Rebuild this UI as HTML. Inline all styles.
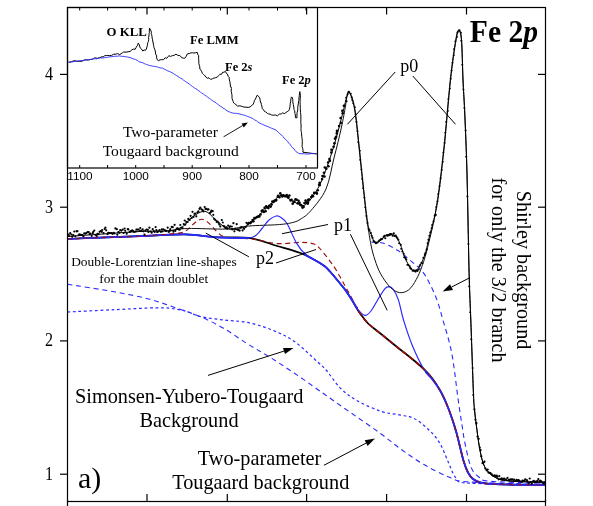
<!DOCTYPE html>
<html><head><meta charset="utf-8"><style>
html,body{margin:0;padding:0;background:#fff;}
body{width:593px;height:506px;overflow:hidden;}
svg{display:block;will-change:transform;}
</style></head><body>
<svg width="593" height="506" viewBox="0 0 593 506">
<rect width="593" height="506" fill="#fff"/>
<path d="M67.5,312.0 C75.3,311.6 99.3,310.4 114.2,309.7 C129.1,309.0 146.5,307.9 156.7,307.8 C166.9,307.7 170.1,308.2 175.6,309.0 C181.1,309.8 185.7,311.2 189.8,312.5 C193.9,313.8 194.4,315.2 200.0,316.5 C205.6,317.8 215.7,319.0 223.6,320.0 C231.5,321.0 239.3,320.8 247.2,322.4 C255.1,324.0 262.9,326.3 270.8,329.5 C278.7,332.7 286.5,336.0 294.4,341.5 C302.3,347.0 312.6,357.5 318.0,362.3 C323.4,367.1 322.7,366.1 326.5,370.5 C330.3,374.9 335.6,383.5 340.7,388.5 C345.8,393.5 350.5,396.9 357.2,400.7 C363.9,404.5 373.7,408.9 380.8,411.3 C387.9,413.7 394.2,413.7 399.7,414.9 C405.2,416.1 409.2,416.0 413.9,418.4 C418.6,420.8 423.7,424.9 428.0,429.0 C432.3,433.1 436.3,437.4 439.8,443.2 C443.3,449.0 446.2,457.8 448.9,463.6 C451.6,469.4 452.9,474.9 456.2,478.2 C459.5,481.4 453.7,482.1 468.5,483.1 C483.3,484.1 532.2,484.2 545.0,484.4" fill="none" stroke="#2a2aff" stroke-width="1.2" stroke-dasharray="2.8,2.7"/>
<path d="M67.5,284.2 C75.3,285.5 100.5,289.3 114.2,291.8 C127.9,294.3 139.4,296.5 149.6,299.2 C159.8,301.9 167.2,304.9 175.6,307.8 C184.0,310.7 192.0,313.1 200.0,316.5 C208.0,319.9 215.7,323.8 223.6,328.3 C231.5,332.8 239.3,338.8 247.2,343.7 C255.1,348.6 262.9,352.9 270.8,357.8 C278.7,362.7 286.5,367.9 294.4,373.2 C302.3,378.5 311.5,385.1 318.0,389.7 C324.5,394.3 327.1,396.1 333.6,400.7 C340.1,405.3 349.3,411.7 357.2,417.2 C365.1,422.7 373.3,428.2 380.8,433.7 C388.3,439.2 394.7,444.8 402.0,450.0 C409.3,455.2 416.6,460.3 424.4,464.8 C432.2,469.3 441.5,474.1 448.9,477.0 C456.2,479.9 452.5,480.7 468.5,481.9 C484.5,483.1 532.2,484.0 545.0,484.4" fill="none" stroke="#2a2aff" stroke-width="1.1" stroke-dasharray="5,3.8"/>
<path d="M371.3,242.3 C373.2,242.4 378.1,241.7 382.5,243.0 C386.9,244.3 392.5,247.1 397.5,250.3 C402.5,253.5 408.5,258.9 412.6,262.3 C416.7,265.8 419.2,267.5 422.0,271.0 C424.8,274.5 427.0,278.3 429.5,283.2 C432.0,288.1 434.8,294.2 437.0,300.1 C439.2,306.1 440.2,310.1 442.6,318.9 C445.1,327.7 449.1,339.5 451.7,353.0 C454.3,366.5 456.5,388.0 458.2,400.0 C459.9,412.0 460.9,417.8 462.0,425.0 C463.1,432.2 463.5,436.4 465.0,443.4 C466.5,450.4 468.7,461.5 471.0,467.1 C473.3,472.7 475.6,474.6 478.8,477.0 C482.0,479.4 479.0,480.3 490.0,481.3 C501.0,482.3 535.8,482.8 545.0,483.1" fill="none" stroke="#2a2aff" stroke-width="1.1" stroke-dasharray="5,3.8"/>
<defs><clipPath id="cb"><rect x="0" y="0" width="248" height="506"/><rect x="304" y="0" width="54" height="506"/><rect x="425" y="0" width="168" height="506"/></clipPath><clipPath id="cr"><rect x="357" y="0" width="67" height="506"/></clipPath><clipPath id="cl"><rect x="0" y="0" width="184" height="506"/><rect x="424" y="0" width="169" height="506"/></clipPath></defs>
<path d="M67.5,239.0 C72.9,238.8 87.9,238.1 100.0,237.6 C112.1,237.1 125.8,236.7 140.0,236.2 C154.2,235.7 172.1,234.2 185.0,234.4 C197.9,234.6 206.5,236.7 217.2,237.3 C227.8,237.9 238.9,236.5 248.9,237.9 C258.9,239.3 268.6,243.5 277.2,246.0 C285.8,248.5 294.2,250.7 300.5,253.0 C306.8,255.3 310.7,257.8 314.7,260.0 C318.7,262.2 321.8,264.1 324.4,266.0 C326.9,267.9 327.9,269.2 330.0,271.5 C332.1,273.8 334.6,276.8 337.2,280.0 C339.8,283.2 343.4,287.4 345.9,290.9 C348.4,294.3 350.6,297.8 352.4,300.7 C354.2,303.6 355.2,305.9 356.7,308.3 C358.1,310.7 359.3,312.4 361.1,314.8 C362.9,317.2 365.4,320.7 367.6,323.0 C369.8,325.3 371.8,326.6 374.1,328.5 C376.5,330.4 378.4,331.9 381.7,334.5 C384.9,337.1 388.6,340.2 393.6,344.3 C398.6,348.4 406.9,354.7 411.9,358.8 C416.9,362.9 420.3,365.7 423.7,369.0 C427.1,372.3 429.5,374.7 432.4,378.5 C435.3,382.3 438.2,386.8 441.0,392.0 C443.8,397.2 446.5,403.4 449.0,410.0 C451.5,416.6 453.8,423.3 456.2,431.8 C458.6,440.3 461.6,454.3 463.6,461.1 C465.6,467.9 466.4,469.5 468.0,472.5 C469.6,475.5 471.0,477.4 473.0,479.0 C475.0,480.6 476.3,481.4 480.0,482.3 C483.7,483.2 484.2,483.7 495.0,484.2 C505.8,484.7 536.7,485.0 545.0,485.1" fill="none" stroke="#000" stroke-width="1.75"/>
<path d="M67.5,239.0 C72.9,238.8 87.9,238.1 100.0,237.6 C112.1,237.1 128.3,236.8 140.0,236.2 C151.7,235.6 162.5,234.9 170.0,234.1 C177.5,233.3 179.4,233.9 184.8,231.4 C190.2,228.9 196.3,218.6 202.4,219.3 C208.5,220.0 215.9,232.3 221.3,235.5 C226.7,238.7 230.3,237.7 234.8,238.2 C239.3,238.7 244.4,238.3 248.3,238.6 C252.2,238.9 253.5,239.2 258.3,240.0 C263.1,240.8 270.1,243.2 277.2,243.6 C284.3,244.0 294.9,242.4 300.8,242.4 C306.7,242.4 309.5,242.6 312.6,243.6 C315.8,244.6 316.1,244.5 319.7,248.3 C323.2,252.1 330.3,261.4 333.9,266.6 C337.5,271.8 339.5,276.0 341.5,279.5 C343.5,283.0 344.4,285.0 345.9,287.6 C347.3,290.2 348.4,291.9 350.2,295.2 C352.0,298.5 354.9,304.2 356.7,307.5 C358.5,310.8 359.3,312.2 361.1,314.8 C362.9,317.4 365.4,320.7 367.6,323.0 C369.8,325.3 371.8,326.6 374.1,328.5 C376.5,330.4 378.4,331.9 381.7,334.5 C384.9,337.1 388.6,340.2 393.6,344.3 C398.6,348.4 406.9,354.7 411.9,358.8 C416.9,362.9 420.3,365.7 423.7,369.0 C427.1,372.3 429.5,374.7 432.4,378.5 C435.3,382.3 438.2,386.8 441.0,392.0 C443.8,397.2 446.5,403.4 449.0,410.0 C451.5,416.6 453.8,423.3 456.2,431.8 C458.6,440.3 461.6,454.3 463.6,461.1 C465.6,467.9 466.4,469.5 468.0,472.5 C469.6,475.5 471.0,477.4 473.0,479.0 C475.0,480.6 476.3,481.4 480.0,482.3 C483.7,483.2 484.2,483.7 495.0,484.2 C505.8,484.7 536.7,485.0 545.0,485.1" fill="none" stroke="#9a0c0c" stroke-width="1.15" stroke-dasharray="5,3.5"/>
<path d="M67.5,239.0 C72.9,238.8 87.9,238.1 100.0,237.6 C112.1,237.1 125.8,236.7 140.0,236.2 C154.2,235.7 172.1,234.2 185.0,234.4 C197.9,234.6 206.9,236.7 217.2,237.3 C227.5,237.9 240.5,238.2 246.8,238.0 C253.1,237.8 252.5,237.6 255.0,236.0 C257.5,234.4 259.7,231.2 262.0,228.5 C264.3,225.8 266.6,222.1 269.0,220.0 C271.4,217.9 274.2,216.4 276.2,216.0 C278.2,215.6 279.2,216.2 281.0,217.5 C282.8,218.8 284.4,219.3 287.0,223.5 C289.6,227.7 293.3,237.7 296.4,242.9 C299.5,248.1 302.4,251.7 305.5,254.5 C308.6,257.4 311.6,258.1 314.7,260.0 C317.8,261.9 321.8,264.1 324.4,266.0 C326.9,267.9 327.9,269.2 330.0,271.5 C332.1,273.8 334.6,276.8 337.2,280.0 C339.8,283.2 343.4,287.4 345.9,290.9 C348.4,294.3 350.6,297.9 352.4,300.7 C354.2,303.5 355.3,305.8 356.7,307.8 C358.1,309.8 359.1,311.2 360.5,312.5 C361.9,313.8 363.6,315.6 365.4,315.3 C367.1,315.1 368.8,313.8 371.0,311.0 C373.2,308.2 376.2,302.2 378.5,298.5 C380.8,294.8 383.3,290.7 385.0,288.7 C386.7,286.7 387.4,286.6 388.7,286.6 C390.0,286.7 391.4,286.8 393.0,289.0 C394.6,291.2 396.8,294.9 398.5,300.1 C400.2,305.3 401.2,312.6 403.5,320.0 C405.8,327.4 408.6,336.5 412.0,344.7 C415.4,352.9 420.3,363.2 423.7,369.0 C427.1,374.8 429.5,375.7 432.4,379.5 C435.3,383.3 438.2,386.9 441.0,392.0 C443.8,397.1 446.5,403.4 449.0,410.0 C451.5,416.6 453.8,423.3 456.2,431.8 C458.6,440.3 461.6,454.3 463.6,461.1 C465.6,467.9 466.4,469.5 468.0,472.5 C469.6,475.5 471.0,477.4 473.0,479.0 C475.0,480.6 476.3,481.4 480.0,482.3 C483.7,483.2 484.2,483.7 495.0,484.2 C505.8,484.7 536.7,485.0 545.0,485.1" fill="none" stroke="#2a2aff" stroke-width="1.2"/>
<path d="M67.5,239.0 C72.9,238.8 87.9,238.1 100.0,237.6 C112.1,237.1 125.8,236.7 140.0,236.2 C154.2,235.7 172.1,234.2 185.0,234.4 C197.9,234.6 206.9,236.7 217.2,237.3 C227.5,237.9 240.5,238.2 246.8,238.0 C253.1,237.8 252.5,237.6 255.0,236.0 C257.5,234.4 259.7,231.2 262.0,228.5 C264.3,225.8 266.6,222.1 269.0,220.0 C271.4,217.9 274.2,216.4 276.2,216.0 C278.2,215.6 279.2,216.2 281.0,217.5 C282.8,218.8 284.4,219.3 287.0,223.5 C289.6,227.7 293.3,237.7 296.4,242.9 C299.5,248.1 302.4,251.7 305.5,254.5 C308.6,257.4 311.6,258.1 314.7,260.0 C317.8,261.9 321.8,264.1 324.4,266.0 C326.9,267.9 327.9,269.2 330.0,271.5 C332.1,273.8 334.6,276.8 337.2,280.0 C339.8,283.2 343.4,287.4 345.9,290.9 C348.4,294.3 350.6,297.9 352.4,300.7 C354.2,303.5 355.3,305.8 356.7,307.8 C358.1,309.8 359.1,311.2 360.5,312.5 C361.9,313.8 363.6,315.6 365.4,315.3 C367.1,315.1 368.8,313.8 371.0,311.0 C373.2,308.2 376.2,302.2 378.5,298.5 C380.8,294.8 383.3,290.7 385.0,288.7 C386.7,286.7 387.4,286.6 388.7,286.6 C390.0,286.7 391.4,286.8 393.0,289.0 C394.6,291.2 396.8,294.9 398.5,300.1 C400.2,305.3 401.2,312.6 403.5,320.0 C405.8,327.4 408.6,336.5 412.0,344.7 C415.4,352.9 420.3,363.2 423.7,369.0 C427.1,374.8 429.5,375.7 432.4,379.5 C435.3,383.3 438.2,386.9 441.0,392.0 C443.8,397.1 446.5,403.4 449.0,410.0 C451.5,416.6 453.8,423.3 456.2,431.8 C458.6,440.3 461.6,454.3 463.6,461.1 C465.6,467.9 466.4,469.5 468.0,472.5 C469.6,475.5 471.0,477.4 473.0,479.0 C475.0,480.6 476.3,481.4 480.0,482.3 C483.7,483.2 484.2,483.7 495.0,484.2 C505.8,484.7 536.7,485.0 545.0,485.1" fill="none" stroke="#2a2aff" stroke-width="1.75" clip-path="url(#cb)"/>
<path d="M67.5,239.0 C72.9,238.8 87.9,238.1 100.0,237.6 C112.1,237.1 128.3,236.8 140.0,236.2 C151.7,235.6 162.5,234.9 170.0,234.1 C177.5,233.3 179.4,233.9 184.8,231.4 C190.2,228.9 196.3,218.6 202.4,219.3 C208.5,220.0 215.9,232.3 221.3,235.5 C226.7,238.7 230.3,237.7 234.8,238.2 C239.3,238.7 244.4,238.3 248.3,238.6 C252.2,238.9 253.5,239.2 258.3,240.0 C263.1,240.8 270.1,243.2 277.2,243.6 C284.3,244.0 294.9,242.4 300.8,242.4 C306.7,242.4 309.5,242.6 312.6,243.6 C315.8,244.6 316.1,244.5 319.7,248.3 C323.2,252.1 330.3,261.4 333.9,266.6 C337.5,271.8 339.5,276.0 341.5,279.5 C343.5,283.0 344.4,285.0 345.9,287.6 C347.3,290.2 348.4,291.9 350.2,295.2 C352.0,298.5 354.9,304.2 356.7,307.5 C358.5,310.8 359.3,312.2 361.1,314.8 C362.9,317.4 365.4,320.7 367.6,323.0 C369.8,325.3 371.8,326.6 374.1,328.5 C376.5,330.4 378.4,331.9 381.7,334.5 C384.9,337.1 388.6,340.2 393.6,344.3 C398.6,348.4 406.9,354.7 411.9,358.8 C416.9,362.9 420.3,365.7 423.7,369.0 C427.1,372.3 429.5,374.7 432.4,378.5 C435.3,382.3 438.2,386.8 441.0,392.0 C443.8,397.2 446.5,403.4 449.0,410.0 C451.5,416.6 453.8,423.3 456.2,431.8 C458.6,440.3 461.6,454.3 463.6,461.1 C465.6,467.9 466.4,469.5 468.0,472.5 C469.6,475.5 471.0,477.4 473.0,479.0 C475.0,480.6 476.3,481.4 480.0,482.3 C483.7,483.2 484.2,483.7 495.0,484.2 C505.8,484.7 536.7,485.0 545.0,485.1" fill="none" stroke="#9a0c0c" stroke-width="1.6" stroke-dasharray="5,3.5" clip-path="url(#cr)"/>
<path d="M67.5,239.0 C72.9,238.8 87.9,238.1 100.0,237.6 C112.1,237.1 128.3,236.8 140.0,236.2 C151.7,235.6 162.5,234.9 170.0,234.1 C177.5,233.3 179.4,233.9 184.8,231.4 C190.2,228.9 196.3,218.6 202.4,219.3 C208.5,220.0 215.9,232.3 221.3,235.5 C226.7,238.7 230.3,237.7 234.8,238.2 C239.3,238.7 244.4,238.3 248.3,238.6 C252.2,238.9 253.5,239.2 258.3,240.0 C263.1,240.8 270.1,243.2 277.2,243.6 C284.3,244.0 294.9,242.4 300.8,242.4 C306.7,242.4 309.5,242.6 312.6,243.6 C315.8,244.6 316.1,244.5 319.7,248.3 C323.2,252.1 330.3,261.4 333.9,266.6 C337.5,271.8 339.5,276.0 341.5,279.5 C343.5,283.0 344.4,285.0 345.9,287.6 C347.3,290.2 348.4,291.9 350.2,295.2 C352.0,298.5 354.9,304.2 356.7,307.5 C358.5,310.8 359.3,312.2 361.1,314.8 C362.9,317.4 365.4,320.7 367.6,323.0 C369.8,325.3 371.8,326.6 374.1,328.5 C376.5,330.4 378.4,331.9 381.7,334.5 C384.9,337.1 388.6,340.2 393.6,344.3 C398.6,348.4 406.9,354.7 411.9,358.8 C416.9,362.9 420.3,365.7 423.7,369.0 C427.1,372.3 429.5,374.7 432.4,378.5 C435.3,382.3 438.2,386.8 441.0,392.0 C443.8,397.2 446.5,403.4 449.0,410.0 C451.5,416.6 453.8,423.3 456.2,431.8 C458.6,440.3 461.6,454.3 463.6,461.1 C465.6,467.9 466.4,469.5 468.0,472.5 C469.6,475.5 471.0,477.4 473.0,479.0 C475.0,480.6 476.3,481.4 480.0,482.3 C483.7,483.2 484.2,483.7 495.0,484.2 C505.8,484.7 536.7,485.0 545.0,485.1" fill="none" stroke="#9a0c0c" stroke-width="0.9" stroke-dasharray="5,3.5" clip-path="url(#cl)"/>
<path d="M170.0,231.0 C172.9,230.6 178.1,228.8 187.5,228.5 C196.9,228.2 216.5,229.4 226.7,229.0 C236.9,228.6 240.5,226.7 248.9,226.0 C257.3,225.3 270.1,225.2 277.2,224.7 C284.3,224.2 287.6,223.7 291.4,222.8 C295.2,221.9 296.7,221.6 300.0,219.5 C303.3,217.4 306.7,215.6 311.0,210.5 C315.3,205.4 322.2,197.8 326.0,189.0 C329.8,180.2 331.4,168.2 334.0,158.0 C336.6,147.8 339.4,136.7 341.3,128.0 C343.2,119.3 344.6,111.3 345.5,106.0 C346.4,100.7 346.3,98.2 347.0,96.0 C347.7,93.8 348.2,90.4 349.5,92.5 C350.8,94.6 353.0,99.6 354.6,108.5 C356.2,117.4 357.6,133.1 359.0,146.0 C360.4,158.9 361.8,173.2 363.2,186.0 C364.6,198.8 366.2,213.2 367.5,223.0 C368.8,232.8 369.8,238.8 371.0,245.0 C372.2,251.2 373.4,255.2 375.0,260.0 C376.6,264.8 378.1,269.3 380.6,273.8 C383.1,278.3 386.9,283.9 390.0,287.0 C393.1,290.1 396.3,292.1 399.4,292.6 C402.5,293.1 406.0,292.0 408.8,289.8 C411.6,287.6 414.1,283.3 416.3,279.4 C418.5,275.5 420.1,271.6 422.0,266.3 C423.9,261.0 425.1,257.7 427.6,247.5 C430.1,237.3 434.1,221.6 436.8,205.3 C439.5,189.1 441.5,170.9 443.8,150.0 C446.1,129.1 448.4,98.3 450.4,80.0 C452.4,61.7 454.5,48.3 455.9,40.0 C457.3,31.7 458.0,30.3 458.9,30.3 C459.8,30.3 460.8,31.7 461.5,40.0 C462.2,48.3 462.5,68.3 463.0,80.0 C463.5,91.7 464.0,96.7 464.6,110.0 C465.2,123.3 466.0,141.7 466.6,160.0 C467.2,178.3 467.6,200.0 468.0,220.0 C468.4,240.0 468.8,263.3 469.3,280.0 C469.8,296.7 470.1,301.7 470.8,320.0 C471.5,338.3 472.7,375.0 473.3,390.0 C473.9,405.0 473.9,403.2 474.5,409.8 C475.1,416.4 476.0,422.9 476.9,429.5 C477.8,436.1 478.5,443.0 479.8,449.3 C481.1,455.6 482.3,462.5 484.8,467.1 C487.3,471.7 490.7,474.7 494.6,477.0 C498.6,479.3 500.1,480.0 508.5,480.9 C516.9,481.8 538.9,482.1 545.0,482.3" fill="none" stroke="#111" stroke-width="1"/>
<path d="M67.5,236.5 C72.9,236.1 87.9,235.0 100.0,234.2 C112.1,233.4 128.3,232.1 140.0,231.5 C151.7,230.9 162.8,231.5 170.0,230.6 C177.2,229.7 180.1,228.0 183.5,226.0 C186.9,224.0 187.3,220.9 190.2,218.6 C193.1,216.2 198.1,212.9 201.0,211.9 C203.9,210.9 205.1,210.9 207.8,212.5 C210.5,214.1 214.0,218.7 217.2,221.3 C220.3,223.9 223.8,226.8 226.7,228.1 C229.6,229.4 231.9,229.6 234.8,229.4 C237.7,229.2 241.7,228.1 244.2,227.0 C246.7,225.9 247.4,225.1 250.0,223.0 C252.6,220.9 256.7,217.6 260.0,214.5 C263.3,211.4 266.5,207.7 270.0,204.5 C273.5,201.3 277.7,196.3 281.0,195.5 C284.3,194.7 287.3,198.2 290.0,199.5 C292.7,200.8 294.7,202.5 297.0,203.5 C299.3,204.5 301.5,206.5 304.0,205.5 C306.5,204.5 309.1,201.6 312.0,197.5 C314.9,193.4 318.0,189.1 321.5,181.0 C325.0,172.9 329.7,159.5 333.0,149.0 C336.3,138.5 339.2,126.8 341.5,118.0 C343.8,109.2 345.7,100.2 347.0,96.0 C348.3,91.8 348.2,90.4 349.5,92.5 C350.8,94.6 353.0,99.6 354.6,108.5 C356.2,117.4 357.6,133.1 359.0,146.0 C360.4,158.9 361.8,173.2 363.2,186.0 C364.6,198.8 366.1,214.8 367.5,223.0 C368.9,231.2 370.2,231.7 371.5,235.0 C372.8,238.3 373.5,242.0 375.0,242.8 C376.5,243.6 378.7,241.2 380.6,240.0 C382.5,238.8 384.4,236.3 386.3,235.3 C388.2,234.3 390.2,233.7 391.9,234.0 C393.6,234.3 395.2,235.4 396.6,237.2 C398.0,239.0 399.0,241.2 400.4,244.7 C401.8,248.1 403.3,254.0 405.0,257.9 C406.7,261.8 409.0,266.0 410.7,268.2 C412.4,270.4 413.8,271.5 415.4,271.0 C416.9,270.5 418.4,268.1 420.0,265.4 C421.6,262.7 423.2,259.9 424.8,255.0 C426.4,250.2 427.5,244.6 429.5,236.3 C431.5,228.0 434.4,219.7 436.8,205.3 C439.2,190.9 441.5,170.9 443.8,150.0 C446.1,129.1 448.4,98.3 450.4,80.0 C452.4,61.7 454.5,48.3 455.9,40.0 C457.3,31.7 458.0,30.3 458.9,30.3 C459.8,30.3 460.8,31.7 461.5,40.0 C462.2,48.3 462.5,68.3 463.0,80.0 C463.5,91.7 464.0,96.7 464.6,110.0 C465.2,123.3 466.0,141.7 466.6,160.0 C467.2,178.3 467.6,200.0 468.0,220.0 C468.4,240.0 468.8,263.3 469.3,280.0 C469.8,296.7 470.1,301.7 470.8,320.0 C471.5,338.3 472.7,375.0 473.3,390.0 C473.9,405.0 473.9,403.2 474.5,409.8 C475.1,416.4 476.0,422.9 476.9,429.5 C477.8,436.1 478.5,443.0 479.8,449.3 C481.1,455.6 482.3,462.5 484.8,467.1 C487.3,471.7 490.7,474.7 494.6,477.0 C498.6,479.3 500.1,480.0 508.5,480.9 C516.9,481.8 538.9,482.1 545.0,482.3" fill="none" stroke="#000" stroke-width="1"/>
<g fill="#000"><circle cx="68.6" cy="234.6" r="1.10"/><circle cx="69.2" cy="236.0" r="1.10"/><circle cx="70.2" cy="233.2" r="1.10"/><circle cx="71.5" cy="234.5" r="1.10"/><circle cx="72.2" cy="236.8" r="1.10"/><circle cx="73.3" cy="235.2" r="1.10"/><circle cx="74.3" cy="231.5" r="1.10"/><circle cx="75.3" cy="236.3" r="1.10"/><circle cx="76.5" cy="231.3" r="1.10"/><circle cx="77.4" cy="231.2" r="1.10"/><circle cx="78.7" cy="235.0" r="1.10"/><circle cx="79.4" cy="234.3" r="1.10"/><circle cx="80.4" cy="234.9" r="1.10"/><circle cx="81.7" cy="234.9" r="1.10"/><circle cx="82.6" cy="235.2" r="1.10"/><circle cx="83.4" cy="236.3" r="1.10"/><circle cx="84.2" cy="233.3" r="1.10"/><circle cx="85.3" cy="233.7" r="1.10"/><circle cx="86.4" cy="233.0" r="1.10"/><circle cx="87.6" cy="232.0" r="1.10"/><circle cx="88.7" cy="232.2" r="1.10"/><circle cx="89.6" cy="234.1" r="1.10"/><circle cx="90.5" cy="233.7" r="1.10"/><circle cx="91.7" cy="236.0" r="1.10"/><circle cx="92.8" cy="233.2" r="1.10"/><circle cx="93.3" cy="231.8" r="1.10"/><circle cx="94.3" cy="230.5" r="1.10"/><circle cx="95.5" cy="234.8" r="1.10"/><circle cx="96.7" cy="235.9" r="1.10"/><circle cx="97.5" cy="233.8" r="1.10"/><circle cx="98.6" cy="234.2" r="1.10"/><circle cx="99.6" cy="231.8" r="1.10"/><circle cx="100.7" cy="231.0" r="1.10"/><circle cx="101.8" cy="231.8" r="1.10"/><circle cx="102.2" cy="230.0" r="1.10"/><circle cx="103.6" cy="233.1" r="1.10"/><circle cx="104.7" cy="229.0" r="1.10"/><circle cx="105.4" cy="227.7" r="1.10"/><circle cx="106.2" cy="230.3" r="1.10"/><circle cx="107.5" cy="234.2" r="1.10"/><circle cx="108.2" cy="232.8" r="1.10"/><circle cx="109.7" cy="233.1" r="1.10"/><circle cx="110.4" cy="233.1" r="1.10"/><circle cx="111.7" cy="233.1" r="1.10"/><circle cx="112.5" cy="233.8" r="1.10"/><circle cx="113.7" cy="232.9" r="1.10"/><circle cx="114.4" cy="233.5" r="1.10"/><circle cx="115.4" cy="228.4" r="1.10"/><circle cx="116.8" cy="229.2" r="1.10"/><circle cx="117.3" cy="234.7" r="1.10"/><circle cx="118.3" cy="232.2" r="1.10"/><circle cx="119.5" cy="232.7" r="1.10"/><circle cx="120.2" cy="230.2" r="1.10"/><circle cx="121.5" cy="230.6" r="1.10"/><circle cx="122.8" cy="229.6" r="1.10"/><circle cx="123.6" cy="233.0" r="1.10"/><circle cx="124.6" cy="228.5" r="1.10"/><circle cx="125.2" cy="230.8" r="1.10"/><circle cx="126.7" cy="233.7" r="1.10"/><circle cx="127.7" cy="229.0" r="1.10"/><circle cx="128.3" cy="229.4" r="1.10"/><circle cx="129.6" cy="232.0" r="1.10"/><circle cx="130.3" cy="231.4" r="1.10"/><circle cx="131.3" cy="231.0" r="1.10"/><circle cx="132.2" cy="230.3" r="1.10"/><circle cx="133.3" cy="231.1" r="1.10"/><circle cx="134.2" cy="232.0" r="1.10"/><circle cx="135.7" cy="231.5" r="1.10"/><circle cx="136.4" cy="229.6" r="1.10"/><circle cx="137.4" cy="229.6" r="1.10"/><circle cx="138.7" cy="229.6" r="1.10"/><circle cx="139.8" cy="231.0" r="1.10"/><circle cx="140.3" cy="228.0" r="1.10"/><circle cx="141.3" cy="230.6" r="1.10"/><circle cx="142.7" cy="229.3" r="1.10"/><circle cx="143.3" cy="231.3" r="1.10"/><circle cx="144.5" cy="234.6" r="1.10"/><circle cx="145.3" cy="230.7" r="1.10"/><circle cx="146.5" cy="229.5" r="1.10"/><circle cx="147.8" cy="229.8" r="1.10"/><circle cx="148.4" cy="231.9" r="1.10"/><circle cx="149.4" cy="227.7" r="1.10"/><circle cx="150.5" cy="231.5" r="1.10"/><circle cx="151.7" cy="232.7" r="1.10"/><circle cx="152.7" cy="229.2" r="1.10"/><circle cx="153.8" cy="231.1" r="1.10"/><circle cx="154.7" cy="232.0" r="1.10"/><circle cx="155.6" cy="227.1" r="1.10"/><circle cx="156.4" cy="230.2" r="1.10"/><circle cx="157.2" cy="232.1" r="1.10"/><circle cx="158.4" cy="231.4" r="1.10"/><circle cx="159.6" cy="230.1" r="1.10"/><circle cx="160.8" cy="231.8" r="1.10"/><circle cx="161.8" cy="229.3" r="1.10"/><circle cx="162.3" cy="231.5" r="1.10"/><circle cx="163.3" cy="229.3" r="1.10"/><circle cx="164.6" cy="230.1" r="1.10"/><circle cx="165.7" cy="230.9" r="1.10"/><circle cx="166.6" cy="230.8" r="1.10"/><circle cx="167.7" cy="227.7" r="1.10"/><circle cx="168.7" cy="231.9" r="1.10"/><circle cx="169.7" cy="230.8" r="1.10"/><circle cx="170.3" cy="229.2" r="1.10"/><circle cx="171.7" cy="226.9" r="1.10"/><circle cx="172.8" cy="227.2" r="1.10"/><circle cx="173.4" cy="231.7" r="1.10"/><circle cx="174.6" cy="224.8" r="1.10"/><circle cx="175.3" cy="230.9" r="1.10"/><circle cx="176.7" cy="228.7" r="1.10"/><circle cx="177.7" cy="228.4" r="1.10"/><circle cx="178.8" cy="229.5" r="1.10"/><circle cx="179.6" cy="229.7" r="1.10"/><circle cx="180.3" cy="225.0" r="1.10"/><circle cx="181.2" cy="227.8" r="1.10"/><circle cx="182.5" cy="228.0" r="1.10"/><circle cx="183.8" cy="224.2" r="1.10"/><circle cx="184.7" cy="220.5" r="1.10"/><circle cx="185.3" cy="224.6" r="1.10"/><circle cx="186.3" cy="221.9" r="1.10"/><circle cx="187.6" cy="222.0" r="1.10"/><circle cx="188.3" cy="218.9" r="1.10"/><circle cx="189.7" cy="219.9" r="1.10"/><circle cx="190.6" cy="215.8" r="1.10"/><circle cx="191.7" cy="218.0" r="1.10"/><circle cx="192.5" cy="211.8" r="1.10"/><circle cx="193.5" cy="216.9" r="1.10"/><circle cx="194.5" cy="213.8" r="1.10"/><circle cx="195.3" cy="213.5" r="1.10"/><circle cx="196.3" cy="216.3" r="1.10"/><circle cx="197.5" cy="212.4" r="1.10"/><circle cx="198.4" cy="211.4" r="1.10"/><circle cx="199.5" cy="208.8" r="1.10"/><circle cx="200.3" cy="207.7" r="1.10"/><circle cx="201.5" cy="209.3" r="1.10"/><circle cx="202.7" cy="210.2" r="1.10"/><circle cx="203.5" cy="211.5" r="1.10"/><circle cx="204.7" cy="207.0" r="1.10"/><circle cx="205.5" cy="208.9" r="1.10"/><circle cx="206.5" cy="208.8" r="1.10"/><circle cx="207.6" cy="209.6" r="1.10"/><circle cx="208.5" cy="209.4" r="1.10"/><circle cx="209.8" cy="213.1" r="1.10"/><circle cx="210.8" cy="212.2" r="1.10"/><circle cx="211.4" cy="210.7" r="1.10"/><circle cx="212.7" cy="211.2" r="1.10"/><circle cx="213.3" cy="214.8" r="1.10"/><circle cx="214.2" cy="218.9" r="1.10"/><circle cx="215.3" cy="219.9" r="1.10"/><circle cx="216.7" cy="221.9" r="1.10"/><circle cx="217.7" cy="221.5" r="1.10"/><circle cx="218.6" cy="222.8" r="1.10"/><circle cx="219.3" cy="224.4" r="1.10"/><circle cx="220.3" cy="226.4" r="1.10"/><circle cx="221.8" cy="220.1" r="1.10"/><circle cx="222.8" cy="222.5" r="1.10"/><circle cx="223.7" cy="226.2" r="1.10"/><circle cx="224.5" cy="226.6" r="1.10"/><circle cx="225.4" cy="227.9" r="1.10"/><circle cx="226.6" cy="227.3" r="1.10"/><circle cx="227.2" cy="228.7" r="1.10"/><circle cx="228.2" cy="225.6" r="1.10"/><circle cx="229.4" cy="227.1" r="1.10"/><circle cx="230.2" cy="226.4" r="1.10"/><circle cx="231.8" cy="226.5" r="1.10"/><circle cx="232.3" cy="229.4" r="1.10"/><circle cx="233.4" cy="223.2" r="1.10"/><circle cx="234.4" cy="231.3" r="1.10"/><circle cx="235.3" cy="228.9" r="1.10"/><circle cx="236.7" cy="224.2" r="1.10"/><circle cx="237.4" cy="229.7" r="1.10"/><circle cx="238.5" cy="230.0" r="1.10"/><circle cx="239.6" cy="230.7" r="1.10"/><circle cx="240.6" cy="227.5" r="1.10"/><circle cx="241.5" cy="227.0" r="1.10"/><circle cx="242.6" cy="230.4" r="1.10"/><circle cx="243.7" cy="228.0" r="1.10"/><circle cx="244.2" cy="228.8" r="1.10"/><circle cx="245.7" cy="227.0" r="1.10"/><circle cx="246.5" cy="222.8" r="1.10"/><circle cx="247.8" cy="224.2" r="1.10"/><circle cx="248.5" cy="222.8" r="1.10"/><circle cx="249.3" cy="223.1" r="1.10"/><circle cx="250.2" cy="223.1" r="1.30"/><circle cx="251.3" cy="222.1" r="1.30"/><circle cx="252.7" cy="220.1" r="1.30"/><circle cx="253.4" cy="221.2" r="1.30"/><circle cx="254.4" cy="218.0" r="1.30"/><circle cx="255.2" cy="218.2" r="1.30"/><circle cx="256.6" cy="217.3" r="1.30"/><circle cx="257.5" cy="216.7" r="1.30"/><circle cx="258.8" cy="216.3" r="1.30"/><circle cx="259.3" cy="216.5" r="1.30"/><circle cx="260.5" cy="214.5" r="1.30"/><circle cx="261.7" cy="211.1" r="1.30"/><circle cx="262.6" cy="210.2" r="1.30"/><circle cx="263.8" cy="212.0" r="1.30"/><circle cx="264.6" cy="207.9" r="1.30"/><circle cx="265.6" cy="211.3" r="1.30"/><circle cx="266.2" cy="206.3" r="1.30"/><circle cx="267.3" cy="207.5" r="1.30"/><circle cx="268.4" cy="208.1" r="1.30"/><circle cx="269.3" cy="205.9" r="1.30"/><circle cx="270.7" cy="206.6" r="1.30"/><circle cx="271.6" cy="204.4" r="1.30"/><circle cx="272.4" cy="201.5" r="1.30"/><circle cx="273.5" cy="202.0" r="1.30"/><circle cx="274.4" cy="200.8" r="1.30"/><circle cx="275.8" cy="200.4" r="1.30"/><circle cx="276.3" cy="200.1" r="1.30"/><circle cx="277.8" cy="196.8" r="1.30"/><circle cx="278.2" cy="195.8" r="1.30"/><circle cx="279.4" cy="197.3" r="1.30"/><circle cx="280.3" cy="193.4" r="1.30"/><circle cx="281.5" cy="195.4" r="1.30"/><circle cx="282.3" cy="196.4" r="1.30"/><circle cx="283.4" cy="195.3" r="1.30"/><circle cx="284.4" cy="196.0" r="1.30"/><circle cx="285.3" cy="196.3" r="1.30"/><circle cx="286.7" cy="195.1" r="1.30"/><circle cx="287.6" cy="196.5" r="1.30"/><circle cx="288.4" cy="197.5" r="1.30"/><circle cx="289.4" cy="195.5" r="1.30"/><circle cx="290.6" cy="200.4" r="1.30"/><circle cx="291.6" cy="199.9" r="1.30"/><circle cx="292.7" cy="203.7" r="1.30"/><circle cx="293.6" cy="202.1" r="1.30"/><circle cx="294.3" cy="201.6" r="1.30"/><circle cx="295.5" cy="199.4" r="1.30"/><circle cx="296.7" cy="199.7" r="1.30"/><circle cx="297.7" cy="203.3" r="1.30"/><circle cx="298.6" cy="200.8" r="1.30"/><circle cx="299.6" cy="202.7" r="1.30"/><circle cx="300.3" cy="204.7" r="1.30"/><circle cx="301.4" cy="205.4" r="1.30"/><circle cx="302.5" cy="207.6" r="1.30"/><circle cx="303.6" cy="206.9" r="1.30"/><circle cx="304.5" cy="203.0" r="1.30"/><circle cx="305.6" cy="200.6" r="1.30"/><circle cx="306.3" cy="202.6" r="1.30"/><circle cx="307.8" cy="203.6" r="1.30"/><circle cx="307.8" cy="202.2" r="1.30"/><circle cx="308.2" cy="199.9" r="1.30"/><circle cx="309.3" cy="199.5" r="1.30"/><circle cx="311.3" cy="197.0" r="1.30"/><circle cx="312.3" cy="195.6" r="1.30"/><circle cx="313.0" cy="196.2" r="1.30"/><circle cx="314.2" cy="192.9" r="1.30"/><circle cx="316.9" cy="193.6" r="1.30"/><circle cx="316.4" cy="192.8" r="1.30"/><circle cx="317.7" cy="190.3" r="1.30"/><circle cx="319.2" cy="184.5" r="1.30"/><circle cx="319.7" cy="182.8" r="1.30"/><circle cx="319.6" cy="185.2" r="1.30"/><circle cx="322.1" cy="179.1" r="1.30"/><circle cx="322.5" cy="176.0" r="1.30"/><circle cx="324.5" cy="176.5" r="1.30"/><circle cx="324.0" cy="172.7" r="1.30"/><circle cx="324.8" cy="167.5" r="1.30"/><circle cx="326.3" cy="168.8" r="1.30"/><circle cx="328.4" cy="166.3" r="1.30"/><circle cx="329.9" cy="160.8" r="1.30"/><circle cx="328.1" cy="162.5" r="1.30"/><circle cx="329.4" cy="159.0" r="1.30"/><circle cx="331.3" cy="152.6" r="1.30"/><circle cx="331.5" cy="149.8" r="1.30"/><circle cx="333.6" cy="146.7" r="1.30"/><circle cx="334.4" cy="143.3" r="1.30"/><circle cx="335.0" cy="138.6" r="1.30"/><circle cx="336.1" cy="136.8" r="1.30"/><circle cx="336.8" cy="133.4" r="1.30"/><circle cx="337.0" cy="130.9" r="1.30"/><circle cx="339.1" cy="126.1" r="1.30"/><circle cx="340.8" cy="122.9" r="1.30"/><circle cx="340.6" cy="118.0" r="1.30"/><circle cx="342.7" cy="113.2" r="1.30"/><circle cx="342.3" cy="110.8" r="1.30"/><circle cx="343.9" cy="105.8" r="1.30"/><circle cx="346.6" cy="101.3" r="1.05"/><circle cx="346.2" cy="97.8" r="1.05"/><circle cx="347.6" cy="94.3" r="1.05"/><circle cx="348.6" cy="91.9" r="1.05"/><circle cx="349.2" cy="92.2" r="1.05"/><circle cx="350.7" cy="93.7" r="1.05"/><circle cx="351.7" cy="97.3" r="1.05"/><circle cx="352.3" cy="100.0" r="1.05"/><circle cx="353.3" cy="103.2" r="1.05"/><circle cx="354.8" cy="107.3" r="1.05"/><circle cx="355.6" cy="114.3" r="1.05"/><circle cx="356.5" cy="122.1" r="1.05"/><circle cx="357.5" cy="131.3" r="1.05"/><circle cx="358.3" cy="142.1" r="1.05"/><circle cx="359.8" cy="150.8" r="1.05"/><circle cx="360.3" cy="159.9" r="1.05"/><circle cx="361.4" cy="169.6" r="1.05"/><circle cx="362.3" cy="179.1" r="1.05"/><circle cx="363.2" cy="188.3" r="1.05"/><circle cx="364.4" cy="197.7" r="1.05"/><circle cx="365.3" cy="207.3" r="1.05"/><circle cx="366.4" cy="215.9" r="1.05"/><circle cx="367.5" cy="222.9" r="1.05"/><circle cx="368.7" cy="229.1" r="1.05"/><circle cx="369.5" cy="230.3" r="1.05"/><circle cx="370.8" cy="232.9" r="1.05"/><circle cx="371.6" cy="235.7" r="1.05"/><circle cx="372.5" cy="237.8" r="1.05"/><circle cx="373.6" cy="240.9" r="1.05"/><circle cx="374.6" cy="241.7" r="1.05"/><circle cx="375.8" cy="243.3" r="1.05"/><circle cx="376.4" cy="242.8" r="1.05"/><circle cx="377.5" cy="242.5" r="1.05"/><circle cx="378.7" cy="241.3" r="1.05"/><circle cx="379.6" cy="240.2" r="1.05"/><circle cx="380.8" cy="239.4" r="1.05"/><circle cx="381.4" cy="239.3" r="1.05"/><circle cx="382.3" cy="238.8" r="1.05"/><circle cx="383.7" cy="236.9" r="1.05"/><circle cx="384.5" cy="235.9" r="1.05"/><circle cx="385.3" cy="238.2" r="1.05"/><circle cx="386.6" cy="235.4" r="1.05"/><circle cx="387.8" cy="235.7" r="1.05"/><circle cx="388.3" cy="235.0" r="1.05"/><circle cx="389.8" cy="234.9" r="1.05"/><circle cx="390.2" cy="234.1" r="1.05"/><circle cx="391.4" cy="234.2" r="1.05"/><circle cx="392.6" cy="235.8" r="1.05"/><circle cx="393.8" cy="233.3" r="1.05"/><circle cx="394.3" cy="236.0" r="1.05"/><circle cx="395.8" cy="235.6" r="1.05"/><circle cx="396.6" cy="237.1" r="1.05"/><circle cx="397.4" cy="238.2" r="1.05"/><circle cx="398.3" cy="239.7" r="1.05"/><circle cx="399.2" cy="243.2" r="1.05"/><circle cx="400.8" cy="244.8" r="1.05"/><circle cx="401.3" cy="248.7" r="1.05"/><circle cx="402.4" cy="251.5" r="1.05"/><circle cx="403.7" cy="253.8" r="1.05"/><circle cx="404.2" cy="257.2" r="1.05"/><circle cx="405.5" cy="258.1" r="1.05"/><circle cx="406.3" cy="259.6" r="1.05"/><circle cx="407.4" cy="264.7" r="1.05"/><circle cx="408.4" cy="265.1" r="1.05"/><circle cx="409.7" cy="266.4" r="1.05"/><circle cx="410.2" cy="268.0" r="1.05"/><circle cx="411.2" cy="268.9" r="1.05"/><circle cx="412.6" cy="270.8" r="1.05"/><circle cx="413.7" cy="270.4" r="1.05"/><circle cx="414.8" cy="270.7" r="1.05"/><circle cx="415.6" cy="271.6" r="1.05"/><circle cx="416.4" cy="270.2" r="1.05"/><circle cx="417.4" cy="270.9" r="1.05"/><circle cx="418.7" cy="269.5" r="1.05"/><circle cx="419.6" cy="266.3" r="1.05"/><circle cx="420.3" cy="264.8" r="1.05"/><circle cx="421.5" cy="262.7" r="1.05"/><circle cx="422.4" cy="263.2" r="1.05"/><circle cx="423.4" cy="257.9" r="1.05"/><circle cx="424.8" cy="254.8" r="1.05"/><circle cx="425.3" cy="253.2" r="1.05"/><circle cx="426.7" cy="249.5" r="1.05"/><circle cx="427.7" cy="243.2" r="1.05"/><circle cx="428.4" cy="239.8" r="1.05"/><circle cx="429.4" cy="235.7" r="1.05"/><circle cx="430.3" cy="232.5" r="1.05"/><circle cx="431.7" cy="228.3" r="1.05"/><circle cx="432.2" cy="225.0" r="1.05"/><circle cx="433.5" cy="221.5" r="1.05"/><circle cx="434.7" cy="215.7" r="1.05"/><circle cx="435.8" cy="214.9" r="1.05"/><circle cx="436.3" cy="207.0" r="1.05"/><circle cx="437.5" cy="201.3" r="1.05"/><circle cx="438.3" cy="194.0" r="1.05"/><circle cx="439.5" cy="186.3" r="1.05"/><circle cx="440.6" cy="178.4" r="1.05"/><circle cx="441.7" cy="170.1" r="1.05"/><circle cx="442.7" cy="161.7" r="1.05"/><circle cx="443.4" cy="152.6" r="1.05"/><circle cx="444.6" cy="142.9" r="1.05"/><circle cx="445.3" cy="132.7" r="1.05"/><circle cx="446.3" cy="121.9" r="1.05"/><circle cx="447.7" cy="110.9" r="1.05"/><circle cx="448.4" cy="99.1" r="1.05"/><circle cx="449.8" cy="88.6" r="1.05"/><circle cx="450.7" cy="78.8" r="1.05"/><circle cx="451.6" cy="70.5" r="1.05"/><circle cx="452.5" cy="62.8" r="1.05"/><circle cx="453.7" cy="55.3" r="1.05"/><circle cx="454.2" cy="49.1" r="1.05"/><circle cx="455.4" cy="41.6" r="1.05"/><circle cx="456.8" cy="36.9" r="1.05"/><circle cx="457.5" cy="32.5" r="1.05"/><circle cx="458.7" cy="30.8" r="1.05"/><circle cx="459.5" cy="30.4" r="1.05"/><circle cx="460.8" cy="32.7" r="1.05"/><circle cx="461.3" cy="40.7" r="1.05"/><circle cx="462.3" cy="64.7" r="1.05"/><circle cx="463.4" cy="89.5" r="1.05"/><circle cx="464.4" cy="108.0" r="1.05"/><circle cx="465.6" cy="130.6" r="1.05"/><circle cx="466.2" cy="156.7" r="1.05"/><circle cx="467.4" cy="196.4" r="1.05"/><circle cx="468.4" cy="244.0" r="1.05"/><circle cx="469.3" cy="286.4" r="1.05"/><circle cx="470.2" cy="312.2" r="1.05"/><circle cx="471.3" cy="339.4" r="1.05"/><circle cx="472.6" cy="368.1" r="1.05"/><circle cx="473.3" cy="395.1" r="1.05"/><circle cx="474.4" cy="409.4" r="1.10"/><circle cx="475.4" cy="419.5" r="1.10"/><circle cx="476.4" cy="423.2" r="1.10"/><circle cx="477.5" cy="436.5" r="1.10"/><circle cx="478.7" cy="438.8" r="1.10"/><circle cx="479.8" cy="447.5" r="1.10"/><circle cx="480.6" cy="450.1" r="1.10"/><circle cx="481.3" cy="456.4" r="1.10"/><circle cx="482.5" cy="463.2" r="1.10"/><circle cx="483.7" cy="462.5" r="1.10"/><circle cx="484.5" cy="461.6" r="1.10"/><circle cx="485.3" cy="468.6" r="1.10"/><circle cx="486.6" cy="470.3" r="1.10"/><circle cx="487.7" cy="469.5" r="1.10"/><circle cx="488.4" cy="472.6" r="1.10"/><circle cx="489.5" cy="472.8" r="1.10"/><circle cx="490.5" cy="473.2" r="1.10"/><circle cx="491.8" cy="474.3" r="1.10"/><circle cx="492.7" cy="475.5" r="1.10"/><circle cx="493.8" cy="475.9" r="1.10"/><circle cx="494.8" cy="475.4" r="1.10"/><circle cx="495.8" cy="476.6" r="1.10"/><circle cx="496.8" cy="475.7" r="1.10"/><circle cx="497.4" cy="476.8" r="1.10"/><circle cx="498.7" cy="479.3" r="1.10"/><circle cx="499.3" cy="476.1" r="1.10"/><circle cx="500.4" cy="479.0" r="1.10"/><circle cx="501.7" cy="478.4" r="1.10"/><circle cx="502.3" cy="479.6" r="1.10"/><circle cx="503.4" cy="478.9" r="1.10"/><circle cx="504.3" cy="478.6" r="1.10"/><circle cx="505.3" cy="479.6" r="1.10"/><circle cx="506.2" cy="479.5" r="1.10"/><circle cx="507.5" cy="477.9" r="1.10"/><circle cx="508.7" cy="480.1" r="1.10"/><circle cx="509.3" cy="479.9" r="1.10"/><circle cx="510.6" cy="479.3" r="1.10"/><circle cx="511.4" cy="479.6" r="1.10"/><circle cx="512.5" cy="479.3" r="1.10"/><circle cx="513.6" cy="481.1" r="1.10"/><circle cx="514.2" cy="479.5" r="1.10"/><circle cx="515.6" cy="480.9" r="1.10"/><circle cx="516.7" cy="479.9" r="1.10"/><circle cx="517.7" cy="480.7" r="1.10"/><circle cx="518.5" cy="480.1" r="1.10"/><circle cx="519.3" cy="480.9" r="1.10"/><circle cx="520.3" cy="481.5" r="1.10"/><circle cx="521.5" cy="481.6" r="1.10"/><circle cx="522.6" cy="480.6" r="1.10"/><circle cx="523.2" cy="480.9" r="1.10"/><circle cx="524.5" cy="480.8" r="1.10"/><circle cx="525.2" cy="479.3" r="1.10"/><circle cx="526.8" cy="480.0" r="1.10"/><circle cx="527.3" cy="481.0" r="1.10"/><circle cx="528.6" cy="483.1" r="1.10"/><circle cx="529.7" cy="478.5" r="1.10"/><circle cx="530.5" cy="482.1" r="1.10"/><circle cx="531.8" cy="483.8" r="1.10"/><circle cx="532.7" cy="481.7" r="1.10"/><circle cx="533.8" cy="480.9" r="1.10"/><circle cx="534.7" cy="482.1" r="1.10"/><circle cx="535.3" cy="481.6" r="1.10"/><circle cx="536.7" cy="481.9" r="1.10"/><circle cx="537.3" cy="480.8" r="1.10"/><circle cx="538.3" cy="479.1" r="1.10"/><circle cx="539.4" cy="481.3" r="1.10"/><circle cx="540.2" cy="480.5" r="1.10"/><circle cx="541.3" cy="481.4" r="1.10"/><circle cx="542.6" cy="482.7" r="1.10"/><circle cx="543.7" cy="483.4" r="1.10"/><circle cx="544.3" cy="482.3" r="1.10"/></g>
<line x1="347.4" y1="124.3" x2="395.2" y2="72.0" stroke="#000" stroke-width="1"/>
<line x1="412.8" y1="76.0" x2="455.5" y2="124.3" stroke="#000" stroke-width="1"/>
<line x1="282.0" y1="233.7" x2="328.0" y2="224.5" stroke="#000" stroke-width="1"/>
<line x1="350.4" y1="234.2" x2="387.2" y2="310.4" stroke="#000" stroke-width="1"/>
<line x1="205.8" y1="233.1" x2="248.9" y2="256.8" stroke="#000" stroke-width="1"/>
<line x1="276.0" y1="263.0" x2="316.0" y2="249.5" stroke="#000" stroke-width="1"/>
<line x1="470.0" y1="277.6" x2="451.5" y2="287.1" stroke="#000" stroke-width="1.0"/><polygon points="442.6,291.6 450.0,284.2 453.0,289.9" fill="#000"/>
<line x1="208.0" y1="375.4" x2="284.0" y2="351.1" stroke="#000" stroke-width="1.0"/><polygon points="293.5,348.0 285.0,354.1 283.0,348.0" fill="#000"/>
<line x1="323.9" y1="465.3" x2="366.1" y2="443.1" stroke="#000" stroke-width="1.0"/><polygon points="375.0,438.5 367.6,446.0 364.7,440.3" fill="#000"/>
<rect x="67.5" y="7.5" width="250" height="160.5" fill="#fff" stroke="none"/>
<path d="M68.4,62.0 L69.7,62.3 L71.8,61.6 L74.3,60.6 L77.0,61.3 L79.2,61.3 L81.8,61.3 L84.6,59.9 L86.2,59.8 L87.3,60.1 L88.7,60.0 L90.4,59.5 L92.3,59.2 L93.6,58.5 L94.6,57.8 L97.3,58.3 L99.7,57.7 L101.9,56.7 L103.1,57.2 L104.5,55.7 L106.2,55.6 L107.8,55.4 L109.8,55.7 L111.5,55.4 L113.6,54.3 L115.9,54.2 L117.4,53.6 L119.7,54.6 L121.8,53.3 L123.6,52.0 L126.1,52.2 L128.1,51.7 L130.1,51.5 L131.9,49.8 L133.8,49.0 L135.1,49.4 L136.1,47.5 L137.1,45.7 L137.6,45.5 L138.2,43.1 L139.3,44.7 L139.9,47.0 L140.2,47.9 L141.3,48.8 L142.8,51.0 L144.1,50.0 L145.6,50.3 L146.3,49.1 L147.1,46.5 L147.4,44.8 L147.8,42.5 L148.4,41.5 L148.7,39.7 L148.6,37.5 L148.9,36.0 L149.1,33.3 L149.4,32.8 L149.3,31.2 L149.6,28.2 L150.6,29.9 L151.4,32.2 L151.2,33.8 L151.5,34.2 L152.0,36.4 L152.1,38.0 L152.5,39.2 L152.7,41.0 L153.2,43.0 L153.6,45.6 L154.0,47.5 L154.8,49.7 L155.5,52.0 L155.6,53.9 L156.6,55.9 L156.6,57.2 L157.1,59.6 L158.3,60.7 L160.1,59.8 L161.7,59.7 L163.5,59.7 L165.2,57.7 L166.7,58.4 L168.1,56.4 L169.0,55.7 L170.4,56.4 L172.6,55.6 L174.5,55.2 L176.0,54.1 L177.6,55.3 L179.1,55.4 L180.5,56.1 L181.7,57.7 L183.7,58.2 L184.7,58.3 L186.0,56.6 L187.5,53.8 L189.1,53.6 L190.8,52.9 L192.4,52.8 L193.9,53.0 L195.4,52.8 L197.2,52.3 L197.9,54.9 L198.7,55.6 L198.6,58.8 L198.8,60.7 L198.8,63.4 L199.3,65.2 L199.8,66.9 L199.8,69.0 L200.4,69.4 L201.5,71.2 L202.4,73.4 L203.4,74.4 L204.5,75.2 L206.0,77.2 L207.4,78.2 L209.0,77.8 L210.7,79.5 L212.4,78.7 L214.2,78.0 L215.6,77.7 L217.3,77.1 L218.7,75.5 L219.8,74.3 L221.6,74.2 L222.8,72.1 L223.8,72.3 L225.4,71.4 L226.5,73.6 L227.4,74.0 L228.2,76.4 L229.2,77.4 L229.2,79.1 L229.8,81.4 L230.1,83.1 L230.5,86.8 L231.1,86.9 L231.4,88.5 L231.2,91.7 L231.7,93.0 L231.7,93.8 L232.0,95.3 L232.0,97.3 L232.1,98.7 L233.2,101.5 L233.7,103.0 L234.6,103.6 L236.0,104.7 L237.7,106.1 L239.1,105.9 L241.3,106.1 L243.2,106.9 L246.0,107.2 L248.2,107.4 L250.1,106.9 L251.3,106.0 L252.6,104.5 L253.2,104.3 L253.9,102.4 L254.4,100.6 L255.5,99.0 L256.0,97.7 L257.2,95.2 L258.4,96.1 L259.0,97.2 L259.8,97.8 L260.0,99.6 L260.6,102.5 L261.0,102.4 L261.4,104.6 L261.9,106.2 L262.2,108.3 L262.7,109.0 L263.7,110.0 L264.5,111.4 L265.8,112.0 L267.3,113.3 L268.3,113.9 L270.1,114.1 L271.7,115.1 L273.6,115.2 L275.2,114.9 L277.4,115.8 L279.3,114.1 L281.3,113.9 L282.6,112.9 L284.3,113.6 L285.9,112.6 L287.2,111.7 L288.5,110.9 L289.3,109.7 L290.0,106.8 L290.2,104.1 L290.3,103.2 L290.6,101.8 L291.0,98.6 L291.3,97.2 L292.1,97.2 L292.8,99.4 L292.8,101.8 L293.3,104.4 L293.8,107.1 L294.0,109.6 L294.7,110.7 L294.9,113.5 L295.1,113.7 L295.5,117.1 L295.5,117.8 L297.0,117.8 L296.9,115.0 L297.1,112.7 L297.8,109.9 L297.7,107.7 L298.4,103.1 L298.8,100.6 L299.0,97.8 L299.3,95.4 L299.6,92.4 L299.9,91.6 L300.2,93.6 L300.4,95.9 L300.2,98.0 L300.1,101.5 L300.2,104.8 L300.3,108.4 L300.5,112.2 L300.8,114.9 L300.9,119.1 L300.8,122.7 L301.1,125.0 L301.0,128.6 L301.0,130.8 L301.5,132.5 L301.7,136.4 L302.1,138.5 L302.3,141.5 L302.2,144.7 L302.1,146.7 L302.7,148.3 L303.0,150.3 L302.9,152.2 L317.2,154" fill="none" stroke="#000" stroke-width="1"/>
<path d="M68.6,62.1 L69.9,62.0 L71.9,61.9 L74.0,61.6 L76.6,61.2 L79.3,60.8 L82.7,60.5 L85.5,60.0 L88.2,59.6 L91.3,59.4 L94.1,58.8 L96.6,58.9 L98.7,58.2 L100.6,57.9 L102.4,58.1 L104.4,57.7 L106.2,57.6 L107.7,57.2 L109.2,57.0 L112.1,56.6 L114.6,56.3 L117.3,56.2 L119.4,55.9 L121.5,56.3 L123.9,56.4 L125.3,56.7 L127.4,57.0 L129.0,57.3 L131.0,57.9 L133.1,58.9 L135.4,59.4 L137.1,60.3 L138.8,61.6 L140.9,62.4 L142.7,62.7 L144.4,63.6 L146.4,64.5 L147.8,64.8 L149.2,65.5 L150.8,65.7 L152.3,66.1 L154.3,66.4 L156.1,66.7 L157.6,66.9 L159.1,67.6 L160.8,68.0 L162.4,68.1 L164.5,69.2 L166.0,69.9 L167.3,70.7 L169.7,71.6 L172.0,72.7 L174.3,74.2 L176.2,75.3 L179.2,77.3 L180.2,78.0 L182.0,78.8 L183.6,80.0 L184.6,81.0 L186.4,82.1 L188.0,83.1 L189.7,84.3 L191.1,85.5 L192.5,86.5 L194.3,87.9 L195.8,88.7 L197.0,89.5 L198.9,90.9 L200.3,91.8 L201.7,93.2 L203.3,94.0 L204.5,95.0 L206.3,96.1 L207.7,97.2 L209.3,98.4 L210.4,99.0 L211.8,100.2 L213.5,101.4 L215.0,102.0 L216.4,103.3 L217.9,104.2 L218.9,105.4 L220.6,106.3 L222.1,107.1 L223.0,108.2 L224.7,108.9 L226.0,110.1 L228.1,111.4 L230.6,112.4 L232.2,112.9 L234.3,113.4 L235.8,113.2 L237.6,113.6 L239.0,113.8 L241.3,114.5 L243.2,114.9 L245.4,115.5 L247.3,116.3 L249.7,117.2 L251.6,118.0 L253.4,118.8 L254.7,120.1 L256.3,120.6 L257.8,121.9 L259.0,122.7 L260.7,123.6 L262.4,124.3 L265.1,125.6 L267.1,126.3 L269.3,127.3 L271.7,128.3 L274.0,129.2 L276.0,130.0 L277.0,131.2 L278.5,132.3 L279.8,133.8 L281.7,135.1 L283.1,136.7 L284.0,138.0 L285.6,139.4 L287.5,141.2 L288.7,143.1 L290.4,144.8 L291.4,146.3 L292.6,147.9 L294.2,148.9 L294.7,150.1 L295.9,151.6 L297.5,152.6 L298.6,153.3 L301.1,153.8 L304.2,153.7 L305.3,154.1 L307.5,154.0 L308.9,154.0 L310.8,153.6 L312.2,153.6 L313.6,153.6 L316.1,153.4" fill="none" stroke="#2a2aff" stroke-width="0.9"/>
<line x1="223.6" y1="136.8" x2="242.7" y2="125.5" stroke="#000" stroke-width="0.9"/><polygon points="247.9,122.5 243.8,127.4 241.6,123.6" fill="#000"/>
<rect x="67.5" y="7.5" width="250" height="160.5" fill="none" stroke="#000" stroke-width="1.2"/>
<line x1="79.7" y1="7.5" x2="79.7" y2="10.5" stroke="#000" stroke-width="1"/>
<line x1="79.7" y1="168" x2="79.7" y2="165" stroke="#000" stroke-width="1"/>
<line x1="107.6" y1="7.5" x2="107.6" y2="10.5" stroke="#000" stroke-width="1"/>
<line x1="107.6" y1="168" x2="107.6" y2="165" stroke="#000" stroke-width="1"/>
<line x1="135.7" y1="7.5" x2="135.7" y2="10.5" stroke="#000" stroke-width="1"/>
<line x1="135.7" y1="168" x2="135.7" y2="165" stroke="#000" stroke-width="1"/>
<line x1="164.0" y1="7.5" x2="164.0" y2="10.5" stroke="#000" stroke-width="1"/>
<line x1="164.0" y1="168" x2="164.0" y2="165" stroke="#000" stroke-width="1"/>
<line x1="192.2" y1="7.5" x2="192.2" y2="10.5" stroke="#000" stroke-width="1"/>
<line x1="192.2" y1="168" x2="192.2" y2="165" stroke="#000" stroke-width="1"/>
<line x1="220.5" y1="7.5" x2="220.5" y2="10.5" stroke="#000" stroke-width="1"/>
<line x1="220.5" y1="168" x2="220.5" y2="165" stroke="#000" stroke-width="1"/>
<line x1="249.0" y1="7.5" x2="249.0" y2="10.5" stroke="#000" stroke-width="1"/>
<line x1="249.0" y1="168" x2="249.0" y2="165" stroke="#000" stroke-width="1"/>
<line x1="277.5" y1="7.5" x2="277.5" y2="10.5" stroke="#000" stroke-width="1"/>
<line x1="277.5" y1="168" x2="277.5" y2="165" stroke="#000" stroke-width="1"/>
<line x1="306.0" y1="7.5" x2="306.0" y2="10.5" stroke="#000" stroke-width="1"/>
<line x1="306.0" y1="168" x2="306.0" y2="165" stroke="#000" stroke-width="1"/>
<rect x="67.5" y="7.5" width="478" height="494" fill="none" stroke="#000" stroke-width="1.2"/>
<line x1="67.5" y1="500" x2="67.5" y2="506" stroke="#000" stroke-width="1.2"/><line x1="545.5" y1="500" x2="545.5" y2="506" stroke="#000" stroke-width="1.2"/>
<line x1="60" y1="74.4" x2="67.5" y2="74.4" stroke="#000" stroke-width="1.2"/>
<line x1="538" y1="74.4" x2="545.5" y2="74.4" stroke="#000" stroke-width="1.2"/>
<line x1="60" y1="207.2" x2="67.5" y2="207.2" stroke="#000" stroke-width="1.2"/>
<line x1="538" y1="207.2" x2="545.5" y2="207.2" stroke="#000" stroke-width="1.2"/>
<line x1="60" y1="340.9" x2="67.5" y2="340.9" stroke="#000" stroke-width="1.2"/>
<line x1="538" y1="340.9" x2="545.5" y2="340.9" stroke="#000" stroke-width="1.2"/>
<line x1="60" y1="474.2" x2="67.5" y2="474.2" stroke="#000" stroke-width="1.2"/>
<line x1="538" y1="474.2" x2="545.5" y2="474.2" stroke="#000" stroke-width="1.2"/>
<line x1="147.0" y1="494" x2="147.0" y2="501.5" stroke="#000" stroke-width="1.2"/>
<line x1="147.0" y1="7.5" x2="147.0" y2="14.5" stroke="#000" stroke-width="1.2"/>
<line x1="227.3" y1="494" x2="227.3" y2="501.5" stroke="#000" stroke-width="1.2"/>
<line x1="227.3" y1="7.5" x2="227.3" y2="14.5" stroke="#000" stroke-width="1.2"/>
<line x1="306.6" y1="494" x2="306.6" y2="501.5" stroke="#000" stroke-width="1.2"/>
<line x1="306.6" y1="7.5" x2="306.6" y2="14.5" stroke="#000" stroke-width="1.2"/>
<line x1="386.6" y1="494" x2="386.6" y2="501.5" stroke="#000" stroke-width="1.2"/>
<line x1="386.6" y1="7.5" x2="386.6" y2="14.5" stroke="#000" stroke-width="1.2"/>
<line x1="466.5" y1="494" x2="466.5" y2="501.5" stroke="#000" stroke-width="1.2"/>
<line x1="466.5" y1="7.5" x2="466.5" y2="14.5" stroke="#000" stroke-width="1.2"/>
<g transform="translate(48.9,79.9) scale(0.87,1)"><text x="0.0" y="0.0" font-size="18.5" font-family="Liberation Serif, serif" text-anchor="middle" >4</text></g>
<g transform="translate(48.9,212.7) scale(0.87,1)"><text x="0.0" y="0.0" font-size="18.5" font-family="Liberation Serif, serif" text-anchor="middle" >3</text></g>
<g transform="translate(48.9,346.4) scale(0.87,1)"><text x="0.0" y="0.0" font-size="18.5" font-family="Liberation Serif, serif" text-anchor="middle" >2</text></g>
<g transform="translate(48.9,479.7) scale(0.87,1)"><text x="0.0" y="0.0" font-size="18.5" font-family="Liberation Serif, serif" text-anchor="middle" >1</text></g>
<text x="80.0" y="179.6" font-size="11.8" font-family="Liberation Sans, sans-serif" text-anchor="middle" >1100</text>
<text x="135.8" y="179.6" font-size="11.8" font-family="Liberation Sans, sans-serif" text-anchor="middle" >1000</text>
<text x="192.2" y="179.6" font-size="11.8" font-family="Liberation Sans, sans-serif" text-anchor="middle" >900</text>
<text x="249.0" y="179.6" font-size="11.8" font-family="Liberation Sans, sans-serif" text-anchor="middle" >800</text>
<text x="306.0" y="179.6" font-size="11.8" font-family="Liberation Sans, sans-serif" text-anchor="middle" >700</text>
<text x="106.6" y="36.0" font-size="12.8" font-family="Liberation Serif, serif" text-anchor="start" font-weight="bold">O KLL</text>
<text x="190.0" y="43.8" font-size="12.6" font-family="Liberation Serif, serif" text-anchor="start" font-weight="bold">Fe LMM</text>
<text x="225.0" y="71.0" font-size="12.5" font-family="Liberation Serif, serif" text-anchor="start" font-weight="bold">Fe 2<tspan font-style="italic">s</tspan></text>
<text x="282.0" y="83.9" font-size="12.5" font-family="Liberation Serif, serif" text-anchor="start" font-weight="bold">Fe 2<tspan font-style="italic">p</tspan></text>
<text x="122.9" y="136.8" font-size="15.6" font-family="Liberation Serif, serif" text-anchor="start" >Two-parameter</text>
<text x="102.7" y="156.3" font-size="15.6" font-family="Liberation Serif, serif" text-anchor="start" >Tougaard background</text>
<g transform="translate(469.8,42.0) scale(0.955,1)"><text x="0.0" y="0.0" font-size="31.0" font-family="Liberation Serif, serif" text-anchor="start" font-weight="bold">Fe 2<tspan font-style="italic">p</tspan></text></g>
<text x="400.2" y="72.4" font-size="18.0" font-family="Liberation Serif, serif" text-anchor="start" >p0</text>
<text x="333.9" y="231.0" font-size="18.0" font-family="Liberation Serif, serif" text-anchor="start" >p1</text>
<text x="256.0" y="263.7" font-size="18.0" font-family="Liberation Serif, serif" text-anchor="start" >p2</text>
<text x="71.2" y="266.2" font-size="13.4" font-family="Liberation Serif, serif" text-anchor="start" >Double-Lorentzian line-shapes</text>
<text x="99.3" y="282.6" font-size="13.4" font-family="Liberation Serif, serif" text-anchor="start" >for the main doublet</text>
<text x="75.0" y="402.8" font-size="20.3" font-family="Liberation Serif, serif" text-anchor="start" >Simonsen-Yubero-Tougaard</text>
<text x="139.4" y="427.1" font-size="20.3" font-family="Liberation Serif, serif" text-anchor="start" >Background</text>
<text x="197.8" y="464.5" font-size="20.3" font-family="Liberation Serif, serif" text-anchor="start" >Two-parameter</text>
<text x="172.2" y="488.8" font-size="20.3" font-family="Liberation Serif, serif" text-anchor="start" >Tougaard background</text>
<text x="78.0" y="487.6" font-size="30.0" font-family="Liberation Serif, serif" text-anchor="start" >a)</text>
<g transform="translate(516.6,270) rotate(90)"><text x="0.0" y="0.0" font-size="20.2" font-family="Liberation Serif, serif" text-anchor="middle" >Shirley background</text></g>
<g transform="translate(492,270) rotate(90)"><text x="0.0" y="0.0" font-size="20.2" font-family="Liberation Serif, serif" text-anchor="middle" >for only the 3/2 branch</text></g>
</svg>
</body></html>
